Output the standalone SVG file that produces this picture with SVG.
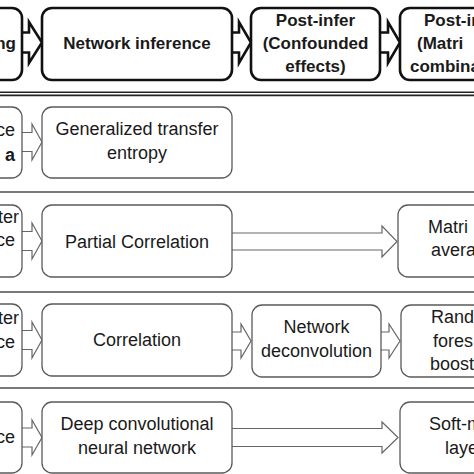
<svg xmlns="http://www.w3.org/2000/svg" width="474" height="474" viewBox="0 0 474 474">
<style>
.top{fill:#fff;stroke:#111;stroke-width:2.6}
.box{fill:#fff;stroke:#5a5a5a;stroke-width:1.3}
.tarr{fill:#fff;stroke:#111;stroke-width:2.6;stroke-linejoin:miter}
.arr{fill:#fff;stroke:#666;stroke-width:1.2}
.sep{stroke:#7a7a7a;stroke-width:2}
text{font-family:"Liberation Sans",Arial,sans-serif;fill:#1a1a1a}
.b{font-weight:bold;font-size:17px}
.n{font-size:18px}
.m{text-anchor:middle}
.e{text-anchor:end}
</style>
<rect width="474" height="474" fill="#fff"/>
<g id="header">
  <line x1="0" y1="92.2" x2="474" y2="92.2" stroke="#222" stroke-width="1.6"/>
  <line x1="0" y1="95.4" x2="474" y2="95.4" stroke="#222" stroke-width="1.6"/>
</g>
<g id="separators">
  <line class="sep" x1="0" y1="192" x2="474" y2="192"/>
  <line class="sep" x1="0" y1="292" x2="474" y2="292"/>
  <line class="sep" x1="0" y1="388" x2="474" y2="388"/>
</g>
<g id="connectors">
  <path class="tarr" d="M22,32.5 H29 V22 L42,42.5 L29,63 V52.5 H22"/>
  <path class="tarr" d="M232,32.5 H239 V22 L251,42.5 L239,63 V52.5 H232"/>
  <path class="tarr" d="M380,32.5 H388 V22 L400,42.5 L388,63 V52.5 H380"/>
  <path class="arr" d="M22,132.5 H32 V124 L42,142 L32,160 V151.5 H22"/>
  <path class="arr" d="M22,231.5 H32 V223 L42,241 L32,259 V250.5 H22"/>
  <path class="arr" d="M232,233 H382 V226 L397,241.5 L382,257 V250 H232"/>
  <path class="arr" d="M22,330.5 H32 V322 L42,340 L32,358 V349.5 H22"/>
  <path class="arr" d="M232,332 H241 V324 L251,341 L241,358 V350 H232"/>
  <path class="arr" d="M381,332 H389 V324 L400,341 L389,358 V350 H381"/>
  <path class="arr" d="M22,428 H32 V420 L42,437.5 L32,455 V447 H22"/>
  <path class="arr" d="M232,428.5 H382 V422 L398,437.5 L382,453 V446.5 H232"/>
</g>
<g id="top-preprocessing">
  <rect class="top" x="-40" y="8" width="62" height="72" rx="10"/>
  <text class="b e" x="16" y="49">ng</text>
</g>
<g id="top-network-inference">
  <rect class="top" x="42" y="8" width="190" height="72" rx="10"/>
  <text class="b m" x="137" y="49">Network inference</text>
</g>
<g id="top-post-infer-confounded">
  <rect class="top" x="251" y="8" width="129" height="72" rx="10"/>
  <text class="b m" x="315.5" y="26">Post-infer</text>
  <text class="b m" x="315.5" y="49">(Confounded</text>
  <text class="b m" x="315.5" y="72">effects)</text>
</g>
<g id="top-post-infer-matrix">
  <rect class="top" x="400" y="8" width="110" height="72" rx="10"/>
  <text class="b" x="424" y="26">Post-in</text>
  <text class="b" x="417" y="49">(Matri</text>
  <text class="b" x="410" y="72">combina</text>
</g>
<g id="row1-input">
  <rect class="box" x="-40" y="107" width="62" height="71" rx="10"/>
  <text class="n e" x="15" y="136">ce</text>
  <text class="n e" x="15" y="161" font-weight="bold">a</text>
</g>
<g id="row1-gte">
  <rect class="box" x="42" y="107" width="190" height="71" rx="10"/>
  <text class="n m" x="137" y="135">Generalized transfer</text>
  <text class="n m" x="137" y="159">entropy</text>
</g>
<g id="row2-input">
  <rect class="box" x="-40" y="205" width="62" height="72" rx="10"/>
  <text class="n e" x="19" y="223">ter</text>
  <text class="n e" x="15" y="246">ce</text>
</g>
<g id="row2-partial-correlation">
  <rect class="box" x="42" y="205" width="190" height="72" rx="10"/>
  <text class="n m" x="137" y="248">Partial Correlation</text>
</g>
<g id="row2-matrix-averaging">
  <rect class="box" x="398" y="205" width="110" height="72" rx="10"/>
  <text class="n" x="428" y="233">Matri</text>
  <text class="n" x="431" y="256">avera</text>
</g>
<g id="row3-input">
  <rect class="box" x="-40" y="304" width="62" height="72" rx="10"/>
  <text class="n e" x="19" y="324">ter</text>
  <text class="n e" x="15" y="348">ce</text>
</g>
<g id="row3-correlation">
  <rect class="box" x="42" y="304" width="190" height="72" rx="10"/>
  <text class="n m" x="137" y="346">Correlation</text>
</g>
<g id="row3-network-deconvolution">
  <rect class="box" x="252" y="305" width="129" height="72" rx="10"/>
  <text class="n m" x="316.5" y="333">Network</text>
  <text class="n m" x="316.5" y="357">deconvolution</text>
</g>
<g id="row3-random-forest">
  <rect class="box" x="401" y="305" width="110" height="72" rx="10"/>
  <text class="n" x="431" y="323">Rand</text>
  <text class="n" x="433" y="347">fores</text>
  <text class="n" x="430" y="370">boost</text>
</g>
<g id="row4-input">
  <rect class="box" x="-40" y="402" width="62" height="71" rx="10"/>
  <text class="n e" x="15" y="443">ce</text>
</g>
<g id="row4-dcnn">
  <rect class="box" x="42" y="402" width="190" height="71" rx="10"/>
  <text class="n m" x="137" y="430">Deep convolutional</text>
  <text class="n m" x="137" y="454">neural network</text>
</g>
<g id="row4-softmax">
  <rect class="box" x="400" y="402" width="110" height="71" rx="10"/>
  <text class="n" x="429" y="430">Soft-m</text>
  <text class="n" x="445" y="454">laye</text>
</g>
</svg>
